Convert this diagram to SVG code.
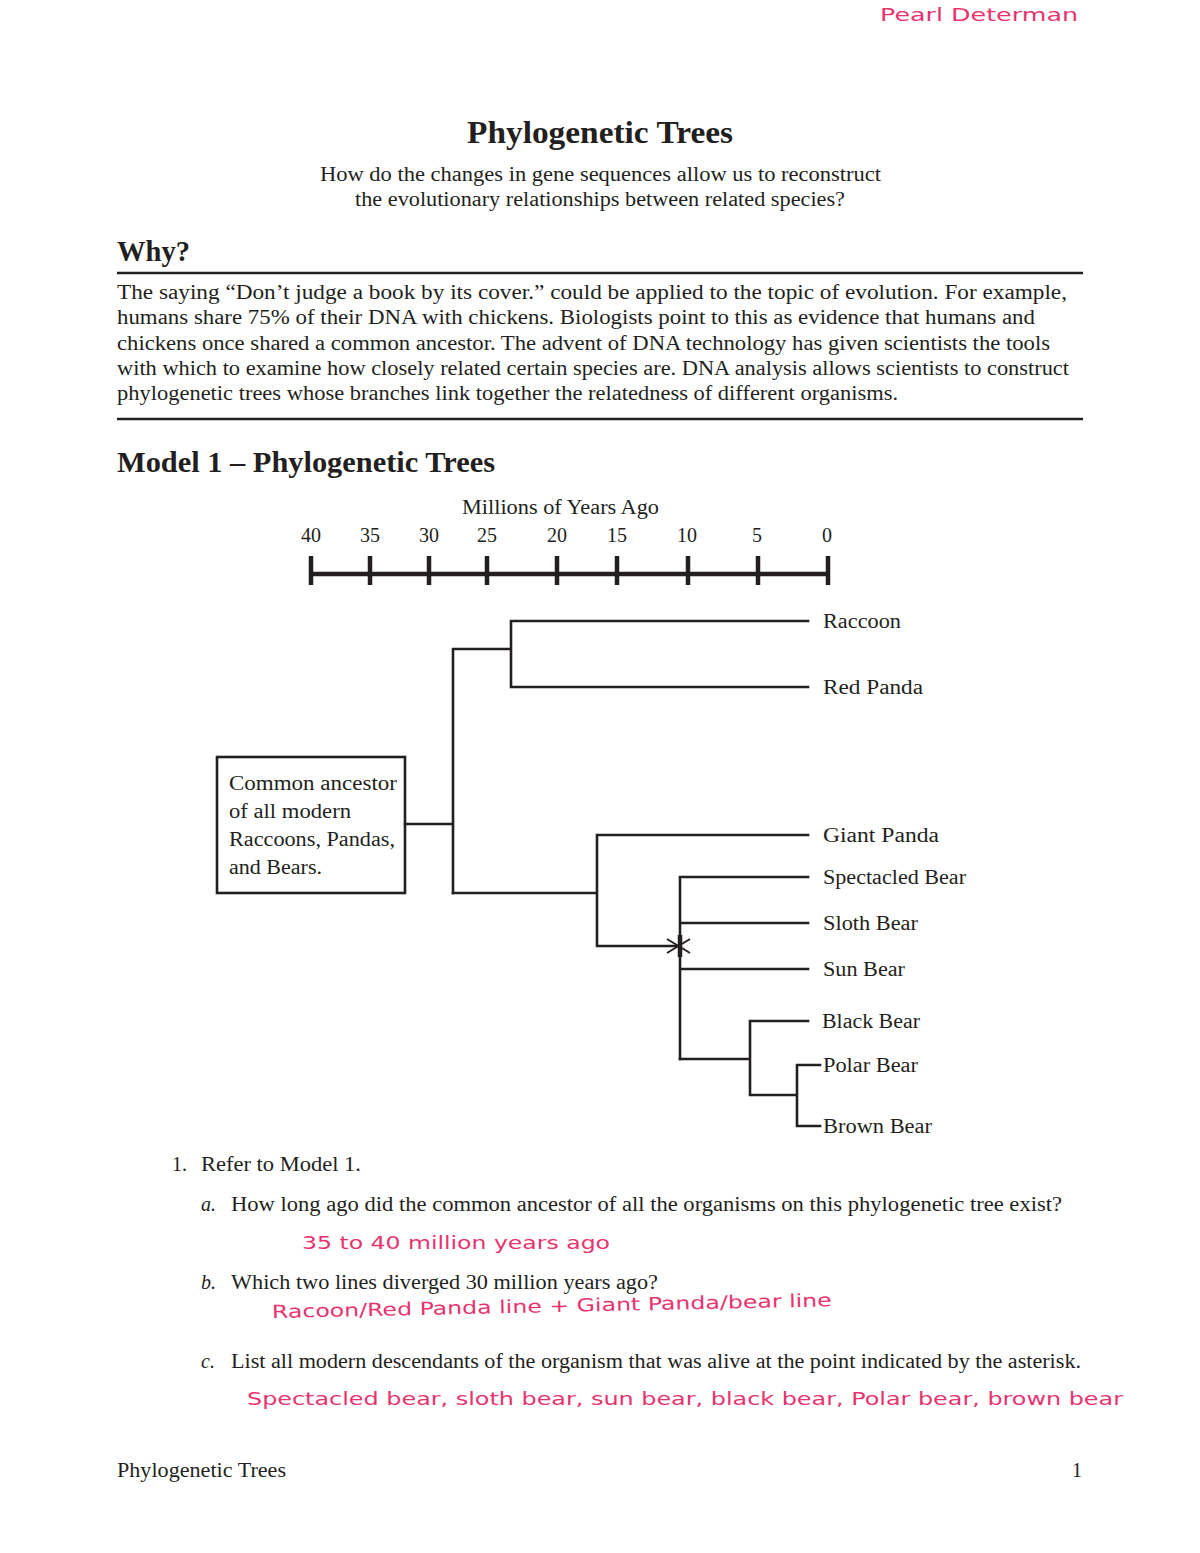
<svg xmlns="http://www.w3.org/2000/svg" width="1200" height="1553" viewBox="0 0 1200 1553">
<style>
text{font-family:"Liberation Serif","DejaVu Serif",serif;fill:#231f20;}
.t{font-size:20px;}
.h{font-weight:bold;font-size:29px;}
.hw{font-family:"DejaVu Sans","Liberation Sans",sans-serif;fill:#e8336f;font-size:18px;}
.ln{stroke:#231f20;stroke-width:2.6;fill:none;stroke-linecap:square;}
.ax{stroke:#231f20;stroke-width:4.5;fill:none;}
.rule{stroke:#231f20;stroke-width:2.5;}
</style>
<rect width="1200" height="1553" fill="#fff"/>
<text class="hw" x="880" y="21" textLength="198" lengthAdjust="spacingAndGlyphs">Pearl Determan</text>
<text x="467" y="143" textLength="266" lengthAdjust="spacingAndGlyphs" style="font-weight:bold;font-size:32px">Phylogenetic Trees</text>
<text class="t" x="320" y="181" textLength="561" lengthAdjust="spacingAndGlyphs">How do the changes in gene sequences allow us to reconstruct</text>
<text class="t" x="355" y="206" textLength="490" lengthAdjust="spacingAndGlyphs">the evolutionary relationships between related species?</text>
<text class="h" x="117" y="261" textLength="73" lengthAdjust="spacingAndGlyphs">Why?</text>
<line class="rule" x1="117" y1="273" x2="1083" y2="273"/>
<g>
<text class="t" x="117" y="299" textLength="950" lengthAdjust="spacingAndGlyphs">The saying “Don’t judge a book by its cover.” could be applied to the topic of evolution. For example,</text>
<text class="t" x="117" y="324" textLength="918" lengthAdjust="spacingAndGlyphs">humans share 75% of their DNA with chickens. Biologists point to this as evidence that humans and</text>
<text class="t" x="117" y="350" textLength="933" lengthAdjust="spacingAndGlyphs">chickens once shared a common ancestor. The advent of DNA technology has given scientists the tools</text>
<text class="t" x="117" y="375" textLength="952" lengthAdjust="spacingAndGlyphs">with which to examine how closely related certain species are. DNA analysis allows scientists to construct</text>
<text class="t" x="117" y="400" textLength="781" lengthAdjust="spacingAndGlyphs">phylogenetic trees whose branches link together the relatedness of different organisms.</text>
</g>
<line class="rule" x1="117" y1="419" x2="1083" y2="419"/>
<text class="h" x="117" y="472" textLength="378" lengthAdjust="spacingAndGlyphs">Model 1 – Phylogenetic Trees</text>
<g id="axis">
<text class="t" x="462" y="514" textLength="197" lengthAdjust="spacingAndGlyphs">Millions of Years Ago</text>
<g text-anchor="middle">
<text class="t" x="311" y="542">40</text>
<text class="t" x="370" y="542">35</text>
<text class="t" x="429" y="542">30</text>
<text class="t" x="487" y="542">25</text>
<text class="t" x="557" y="542">20</text>
<text class="t" x="617" y="542">15</text>
<text class="t" x="687" y="542">10</text>
<text class="t" x="757" y="542">5</text>
<text class="t" x="827" y="542">0</text>
</g>
<line class="ax" x1="311" y1="574" x2="829" y2="574"/>
<path class="ax" d="M311,556V585M370,556V585M429,556V585M487,556V585M557,556V585M617,556V585M688,556V585M758,556V585M828,556V585"/>
</g>
<g id="ancestor">
<rect x="217" y="757" width="188" height="136" fill="none" stroke="#231f20" stroke-width="2.6"/>
<text class="t" x="229" y="790" textLength="168" lengthAdjust="spacingAndGlyphs">Common ancestor</text>
<text class="t" x="229" y="818" textLength="122" lengthAdjust="spacingAndGlyphs">of all modern</text>
<text class="t" x="229" y="846" textLength="166" lengthAdjust="spacingAndGlyphs">Raccoons, Pandas,</text>
<text class="t" x="229" y="874" textLength="93" lengthAdjust="spacingAndGlyphs">and Bears.</text>
</g>
<g id="connectors">
<path class="ln" d="M405,824H453M453,649V893M453,649H511M511,621V687M511,621H808M511,687H808"/>
<path class="ln" d="M453,893H597M597,835V946M597,835H808M597,946H680M680,877V1059M680,877H808M680,923H808M680,969H808"/>
<path class="ln" d="M680,1059H750M750,1021V1095M750,1021H808M750,1095H797M797,1065V1126M797,1065H820M797,1126H820"/>
</g>
<g id="asterisk" stroke="#231f20" fill="none">
<line x1="680" y1="935" x2="680" y2="957" stroke-width="4.5"/>
<line x1="667" y1="939" x2="690" y2="953" stroke-width="2"/>
<line x1="667" y1="953" x2="690" y2="939" stroke-width="2"/>
</g>
<g id="raccoon"><text class="t" x="823" y="628" textLength="78" lengthAdjust="spacingAndGlyphs">Raccoon</text></g>
<g id="red-panda"><text class="t" x="823" y="694" textLength="100" lengthAdjust="spacingAndGlyphs">Red Panda</text></g>
<g id="giant-panda"><text class="t" x="823" y="842" textLength="116" lengthAdjust="spacingAndGlyphs">Giant Panda</text></g>
<g id="spectacled-bear"><text class="t" x="823" y="884" textLength="143" lengthAdjust="spacingAndGlyphs">Spectacled Bear</text></g>
<g id="sloth-bear"><text class="t" x="823" y="930" textLength="95" lengthAdjust="spacingAndGlyphs">Sloth Bear</text></g>
<g id="sun-bear"><text class="t" x="823" y="976" textLength="82" lengthAdjust="spacingAndGlyphs">Sun Bear</text></g>
<g id="black-bear"><text class="t" x="822" y="1028" textLength="98" lengthAdjust="spacingAndGlyphs">Black Bear</text></g>
<g id="polar-bear"><text class="t" x="823" y="1072" textLength="95" lengthAdjust="spacingAndGlyphs">Polar Bear</text></g>
<g id="brown-bear"><text class="t" x="823" y="1133" textLength="109" lengthAdjust="spacingAndGlyphs">Brown Bear</text></g>
<text class="t" x="172" y="1171">1.</text>
<text class="t" x="201" y="1171" textLength="160" lengthAdjust="spacingAndGlyphs">Refer to Model 1.</text>
<text class="t" x="201" y="1211" font-style="italic">a.</text>
<text class="t" x="231" y="1211" textLength="831" lengthAdjust="spacingAndGlyphs">How long ago did the common ancestor of all the organisms on this phylogenetic tree exist?</text>
<text class="hw" x="302" y="1249" textLength="308" lengthAdjust="spacingAndGlyphs">35 to 40 million years ago</text>
<text class="t" x="201" y="1289" font-style="italic">b.</text>
<text class="t" x="231" y="1289" textLength="427" lengthAdjust="spacingAndGlyphs">Which two lines diverged 30 million years ago?</text>
<text class="hw" x="272" y="1318" textLength="560" lengthAdjust="spacingAndGlyphs" transform="rotate(-1.2 272 1318)">Racoon/Red  Panda  line + Giant Panda/bear line</text>
<text class="t" x="201" y="1368" font-style="italic">c.</text>
<text class="t" x="231" y="1368" textLength="850" lengthAdjust="spacingAndGlyphs">List all modern descendants of the organism that was alive at the point indicated by the asterisk.</text>
<text class="hw" x="247" y="1405" textLength="876" lengthAdjust="spacingAndGlyphs">Spectacled bear, sloth bear, sun bear, black bear, Polar bear, brown bear</text>
<text class="t" x="117" y="1477" textLength="169" lengthAdjust="spacingAndGlyphs">Phylogenetic Trees</text>
<text class="t" x="1072" y="1477">1</text>
</svg>
